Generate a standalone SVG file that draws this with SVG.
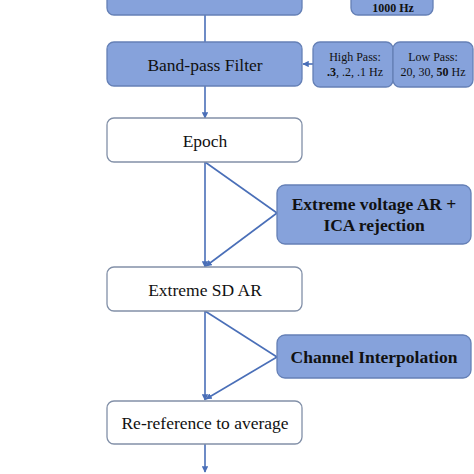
<svg xmlns="http://www.w3.org/2000/svg" width="474" height="474" viewBox="0 0 474 474">
<defs>
<marker id="ah" viewBox="0 0 10 10" refX="9" refY="5" markerWidth="4" markerHeight="4" orient="auto" markerUnits="strokeWidth">
<path d="M0,0 L10,5 L0,10 z" fill="#4a6fb8"/>
</marker>
</defs>
<style>
.blue{fill:#86a2db;stroke:#6580b6;stroke-width:1.3}
.white{fill:#ffffff;stroke:#8290a8;stroke-width:1.3}
.t{font-family:"Liberation Serif","Times New Roman",serif;fill:#111;text-anchor:middle}
.m{font-size:17.5px}
.b{font-weight:bold}
.s{font-size:12px}
.c{fill:none;stroke:#4a6fb8;stroke-width:1.6}
</style>
<rect width="474" height="474" fill="#ffffff"/>
<g id="connectors">
<line class="c" x1="205" y1="15" x2="205" y2="42"/>
<line class="c" x1="313" y1="64" x2="303" y2="64" marker-end="url(#ah)"/>
<line class="c" x1="205" y1="86" x2="205" y2="118" marker-end="url(#ah)"/>
<line class="c" x1="205" y1="162" x2="205" y2="267" marker-end="url(#ah)"/>
<line class="c" x1="205" y1="162" x2="277" y2="213"/>
<line class="c" x1="277" y1="213" x2="206" y2="266" marker-end="url(#ah)"/>
<line class="c" x1="205" y1="311" x2="205" y2="400" marker-end="url(#ah)"/>
<line class="c" x1="205" y1="311" x2="277" y2="357"/>
<line class="c" x1="277" y1="357" x2="206" y2="399" marker-end="url(#ah)"/>
<line class="c" x1="205" y1="444" x2="205" y2="472" marker-end="url(#ah)"/>
</g>
<g id="node-top">
<rect class="blue" x="107" y="-20" width="195" height="35" rx="7"/>
</g>
<g id="node-rate">
<rect class="blue" x="351" y="-20" width="82" height="35" rx="7"/>
<text class="t s b" x="393" y="12">1000 Hz</text>
</g>
<g id="node-bandpass">
<rect class="blue" x="107" y="42" width="195" height="44" rx="7"/>
<text class="t m" x="205" y="71">Band-pass Filter</text>
</g>
<g id="node-highpass">
<rect class="blue" x="313" y="42" width="80" height="45" rx="7"/>
<text class="t s" x="355" y="61">High Pass:</text>
<text class="t s" x="355" y="76"><tspan font-weight="bold">.3</tspan>, .2, .1 Hz</text>
</g>
<g id="node-lowpass">
<rect class="blue" x="393" y="42" width="80" height="45" rx="7"/>
<text class="t s" x="433" y="61">Low Pass:</text>
<text class="t s" x="433" y="76">20, 30, <tspan font-weight="bold">50</tspan> Hz</text>
</g>
<g id="node-epoch">
<rect class="white" x="107" y="118" width="195" height="44" rx="7"/>
<text class="t m" x="205" y="147">Epoch</text>
</g>
<g id="node-extreme-voltage">
<rect class="blue" x="277" y="185" width="194" height="59" rx="8"/>
<text class="t m b" x="374" y="210">Extreme voltage AR +</text>
<text class="t m b" x="374" y="231">ICA rejection</text>
</g>
<g id="node-extreme-sd">
<rect class="white" x="107" y="267" width="195" height="44" rx="7"/>
<text class="t m" x="205" y="296">Extreme SD AR</text>
</g>
<g id="node-channel-interp">
<rect class="blue" x="277" y="335" width="194" height="43" rx="8"/>
<text class="t m b" x="374" y="363">Channel Interpolation</text>
</g>
<g id="node-rereference">
<rect class="white" x="107" y="401" width="195" height="43" rx="7"/>
<text class="t m" x="205" y="429">Re-reference to average</text>
</g>
</svg>
